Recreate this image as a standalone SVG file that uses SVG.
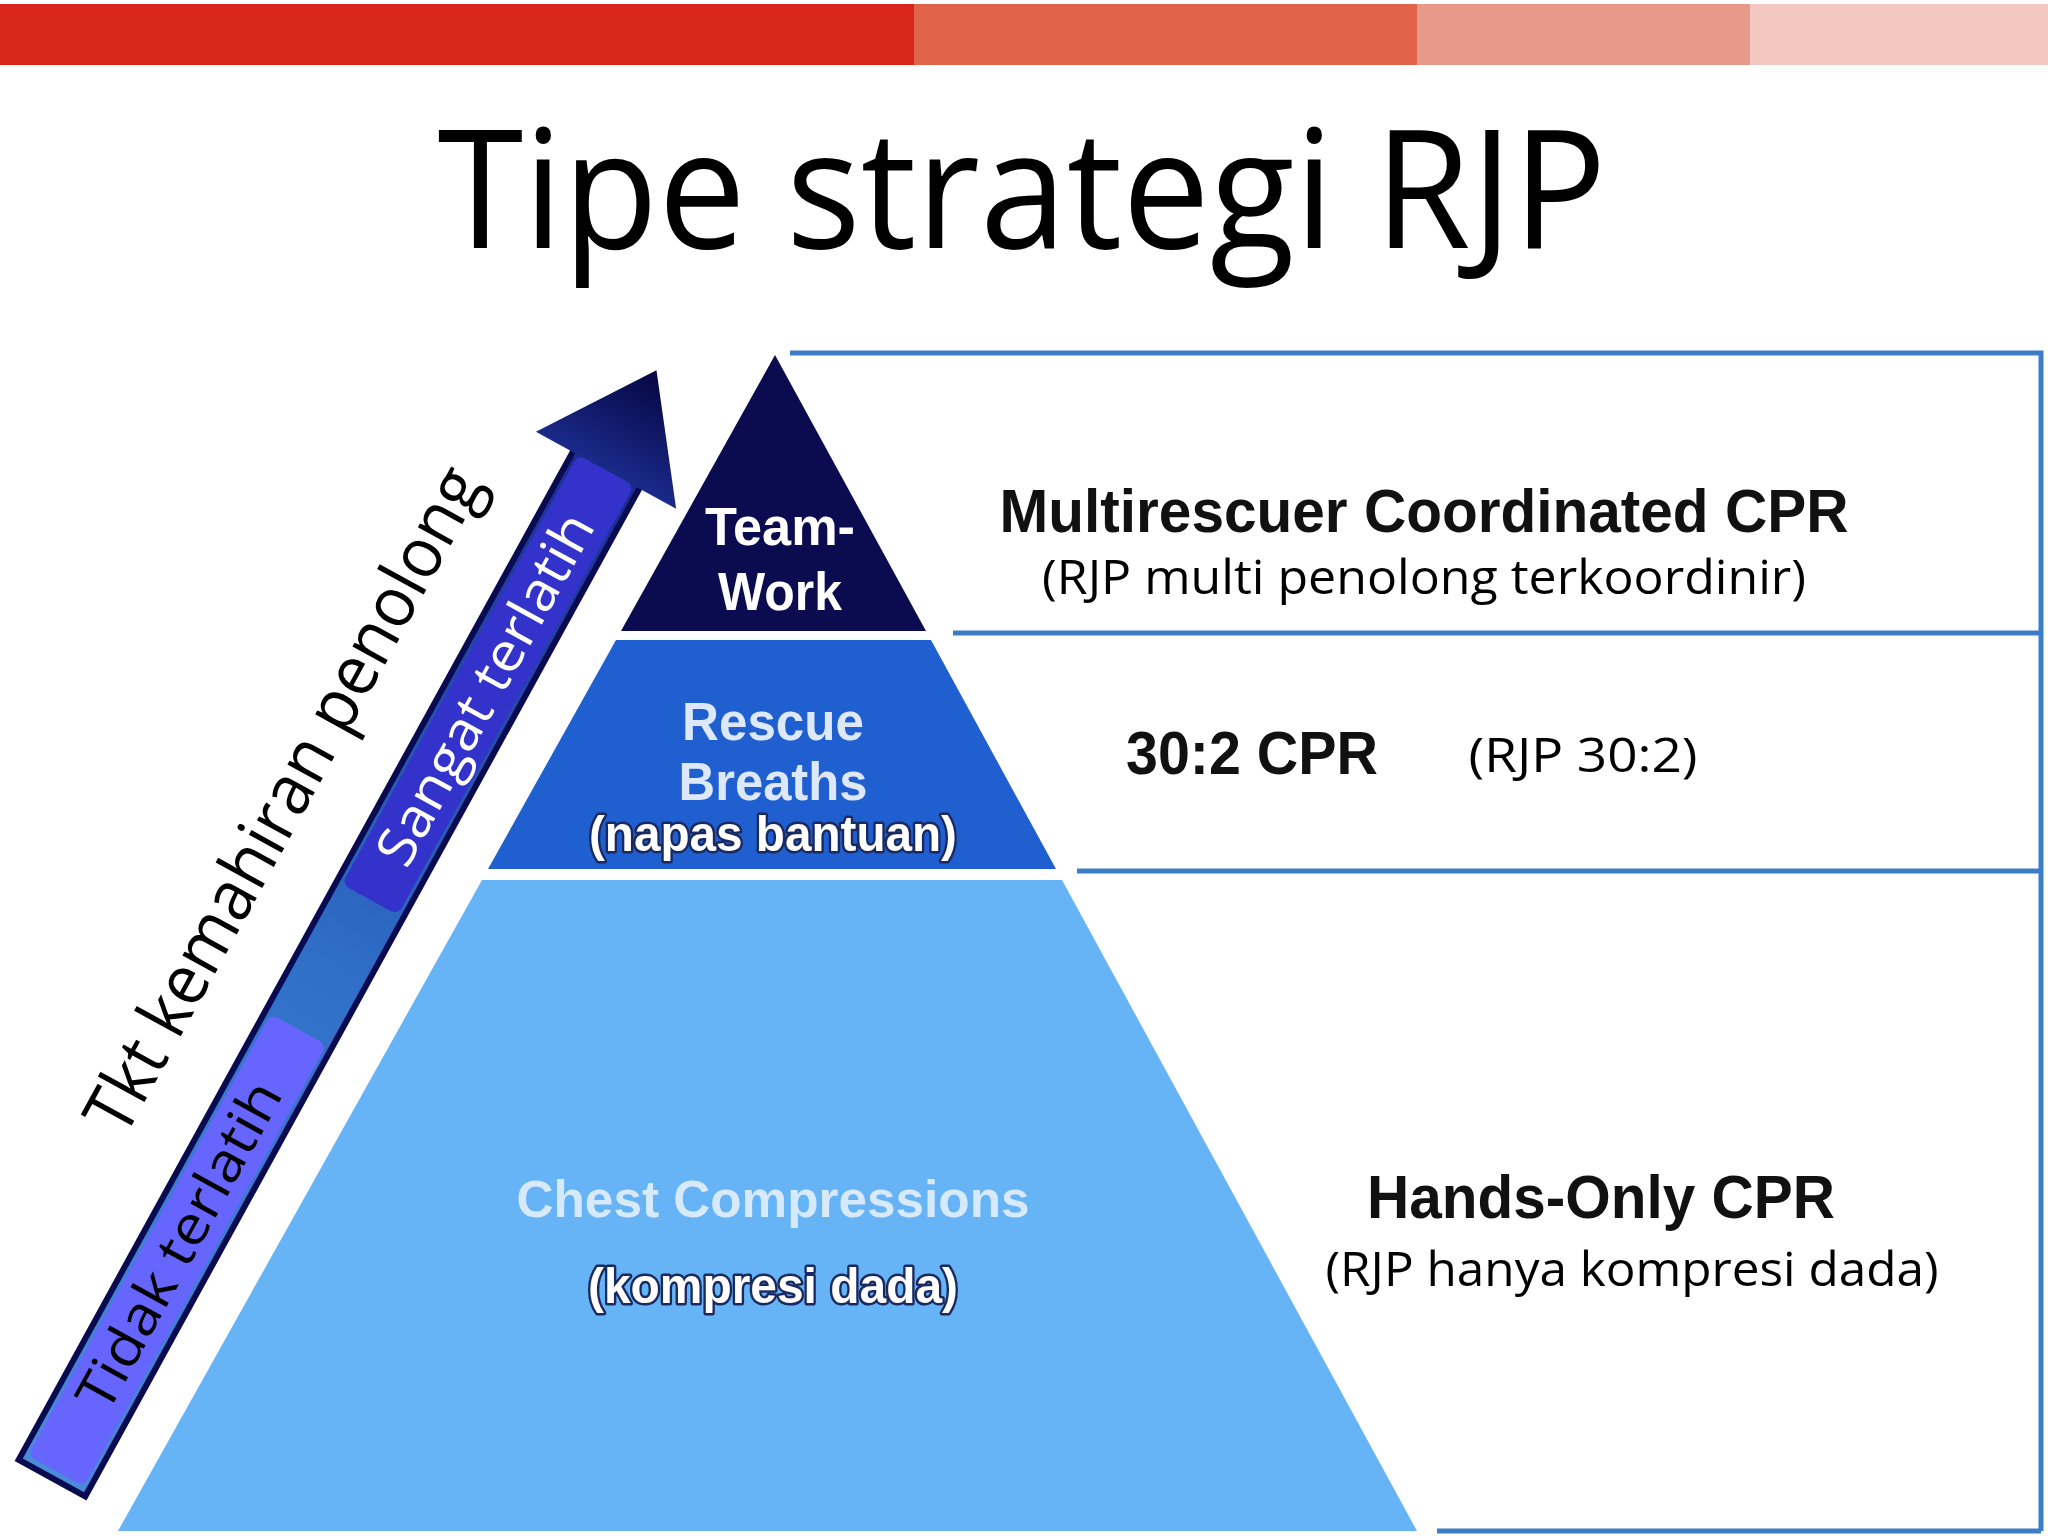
<svg xmlns="http://www.w3.org/2000/svg" width="2048" height="1536" viewBox="0 0 2048 1536">
<defs>
<style>
.lbl{font-family:"Liberation Sans",Arial,sans-serif;font-weight:bold;text-anchor:middle}
.sub{font-family:"Open Sans","DejaVu Sans",sans-serif;text-anchor:middle;fill:#000}
.ol{stroke:#1a2a60;stroke-width:5;paint-order:stroke;stroke-linejoin:round}
.rule{stroke:#3c7dc8;stroke-width:5;fill:none}
.arr{font-family:"Open Sans","Lato",sans-serif;text-anchor:middle}
</style>
<linearGradient id="shaft" x1="0" y1="0" x2="1" y2="0">
<stop offset="0" stop-color="#4a8ad8"/><stop offset="0.5" stop-color="#2f6fc8"/><stop offset="1" stop-color="#1a2a90"/>
</linearGradient>
<linearGradient id="head" x1="0" y1="0" x2="1" y2="0">
<stop offset="0" stop-color="#1a2a8a"/><stop offset="1" stop-color="#050540"/>
</linearGradient>
</defs>
<rect width="2048" height="1536" fill="#fff"/>
<g id="topbar">
<rect x="0" y="4" width="914" height="61" fill="#d9261c"/>
<rect x="914" y="4" width="503" height="61" fill="#e0634a"/>
<rect x="1417" y="4" width="333" height="61" fill="#e89a8a"/>
<rect x="1750" y="4" width="298" height="61" fill="#f2c8c0"/>
</g>
<text id="title" x="1022" y="248" font-family="Open Sans,DejaVu Sans,sans-serif" font-size="165" text-anchor="middle" textLength="1169" lengthAdjust="spacingAndGlyphs">Tipe strategi RJP</text>
<g id="connectors">
<polyline class="rule" points="790,353 2041,353 2041,1531"/>
<line class="rule" x1="953" y1="633" x2="2041" y2="633"/>
<line class="rule" x1="1077" y1="871" x2="2041" y2="871"/>
<line class="rule" x1="1437" y1="1531" x2="2041" y2="1531"/>
</g>
<g id="teamwork">
<polygon points="775,355 926,631 621,631" fill="#0b0b50"/>
<text class="lbl" x="780" y="545" font-size="54" fill="#fff" textLength="150" lengthAdjust="spacingAndGlyphs">Team-</text>
<text class="lbl" x="780" y="610" font-size="54" fill="#fff" textLength="124" lengthAdjust="spacingAndGlyphs">Work</text>
</g>
<g id="rescue">
<polygon points="616,640 931,640 1056,869 488,869" fill="#1f5fcf"/>
<text class="lbl" x="773" y="740" font-size="54" fill="#dde8fa" textLength="182" lengthAdjust="spacingAndGlyphs">Rescue</text>
<text class="lbl" x="773" y="800" font-size="54" fill="#dde8fa" textLength="189" lengthAdjust="spacingAndGlyphs">Breaths</text>
<text class="lbl ol" x="773" y="851" font-size="50" fill="#fff" textLength="368" lengthAdjust="spacingAndGlyphs">(napas bantuan)</text>
</g>
<g id="chest">
<polygon points="482,880 1062,880 1417,1531 118,1531" fill="#66b3f5"/>
<text class="lbl" x="773" y="1217" font-size="52" fill="#d6eafc" textLength="513" lengthAdjust="spacingAndGlyphs">Chest Compressions</text>
<text class="lbl ol" x="773" y="1303" font-size="50" fill="#fff" textLength="370" lengthAdjust="spacingAndGlyphs">(kompresi dada)</text>
</g>
<g id="labels-right">
<text class="lbl" x="1424" y="532" font-size="62" fill="#111" textLength="849" lengthAdjust="spacingAndGlyphs">Multirescuer Coordinated CPR</text>
<text class="sub" x="1424" y="594" font-size="48" textLength="764" lengthAdjust="spacingAndGlyphs">(RJP multi penolong terkoordinir)</text>
<text class="lbl" x="1252" y="774" font-size="62" fill="#111" textLength="252" lengthAdjust="spacingAndGlyphs">30:2 CPR</text>
<text class="sub" x="1583" y="772" font-size="48" textLength="229" lengthAdjust="spacingAndGlyphs">(RJP 30:2)</text>
<text class="lbl" x="1601" y="1218" font-size="62" fill="#111" textLength="468" lengthAdjust="spacingAndGlyphs">Hands-Only CPR</text>
<text class="sub" x="1632" y="1286" font-size="48" textLength="613" lengthAdjust="spacingAndGlyphs">(RJP hanya kompresi dada)</text>
</g>
<g id="skill-arrow" transform="translate(52,1478) rotate(-61.2)">
<rect x="0" y="-38" width="1165" height="76" fill="url(#shaft)" stroke="#0a0a50" stroke-width="6"/>
<polygon points="1150,-80 1262,-4 1150,80" fill="url(#head)"/>
<rect x="8" y="-32" width="504" height="64" rx="8" fill="#6666ff"/>
<rect x="660" y="-32" width="490" height="64" rx="8" fill="#3333cc"/>
<text class="arr" x="265" y="18" font-size="54" fill="#000" textLength="366" lengthAdjust="spacingAndGlyphs">Tidak terlatih</text>
<text class="arr" x="900" y="18" font-size="54" fill="#fff" textLength="393" lengthAdjust="spacingAndGlyphs">Sangat terlatih</text>
<text class="arr" x="706" y="-100" font-size="70" fill="#000" textLength="748" lengthAdjust="spacingAndGlyphs">Tkt kemahiran penolong</text>
</g>
</svg>
